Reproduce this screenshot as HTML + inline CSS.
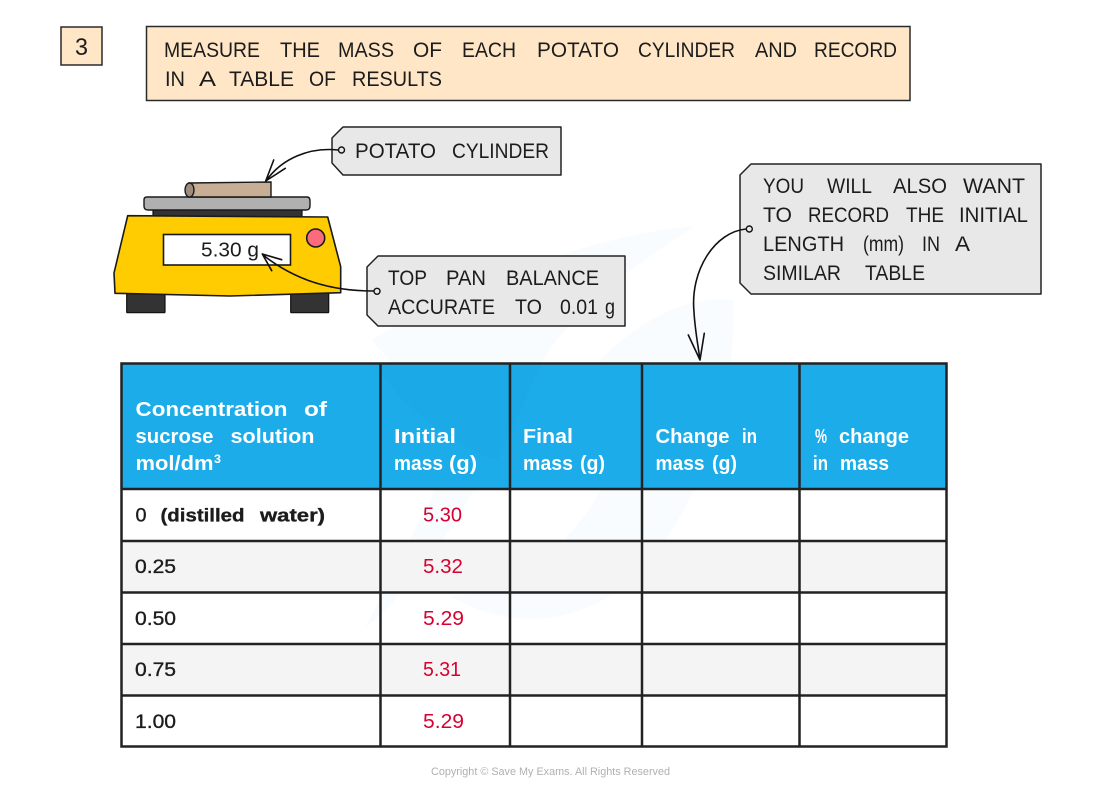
<!DOCTYPE html>
<html>
<head>
<meta charset="utf-8">
<style>
html,body{margin:0;padding:0;background:#fff}
svg{display:block}
text{font-family:"Liberation Sans",sans-serif}
.h{font-size:21px;fill:#1c1c1c}
.t{font-size:20px;font-weight:700;fill:#fff}
.b{font-size:19.5px;fill:#1c1c1c;stroke:#1c1c1c;stroke-width:.35}
.r{font-size:20px;fill:#d7002f}
.a{fill:none;stroke:#111;stroke-width:1.6;stroke-linecap:round;stroke-linejoin:round}
.l{stroke:#222;stroke-width:2.5;fill:none}
</style>
</head>
<body>
<svg xmlns="http://www.w3.org/2000/svg" width="1100" height="791" viewBox="0 0 1100 791">
<defs><clipPath id="hc"><rect x="121" y="363" width="826" height="126"/></clipPath></defs>
<rect width="1100" height="791" fill="#fff"/>
<!-- watermark -->
<path d="M372 340C450 290 590 235 695 226C640 262 585 300 548 352C510 420 450 560 365 628C400 560 440 480 470 420C430 400 395 370 372 340Z" fill="#f8fcfe"/>
<path d="M600 360C650 310 700 295 733 300C738 400 700 520 620 590C560 630 500 625 450 596C520 590 580 540 610 470C630 430 625 390 600 360Z" fill="#f9fcfe"/>

<!-- number box -->
<rect x="61" y="27" width="41" height="38" fill="#fee6c6" stroke="#2a2a2a" stroke-width="1.5"/>
<text x="75" y="55" class="h" style="font-size:24px" textLength="13" lengthAdjust="spacingAndGlyphs">3</text>
<!-- heading -->
<rect x="146.5" y="26.5" width="763.5" height="74" fill="#fee6c6" stroke="#2a2a2a" stroke-width="1.5"/>
<g class="h">
<text lengthAdjust="spacingAndGlyphs" x="164" y="57" textLength="96">MEASURE</text>
<text lengthAdjust="spacingAndGlyphs" x="280" y="57" textLength="40">THE</text>
<text lengthAdjust="spacingAndGlyphs" x="338" y="57" textLength="56">MASS</text>
<text lengthAdjust="spacingAndGlyphs" x="413" y="57" textLength="29">OF</text>
<text lengthAdjust="spacingAndGlyphs" x="462" y="57" textLength="54">EACH</text>
<text lengthAdjust="spacingAndGlyphs" x="537" y="57" textLength="82">POTATO</text>
<text lengthAdjust="spacingAndGlyphs" x="638" y="57" textLength="97">CYLINDER</text>
<text lengthAdjust="spacingAndGlyphs" x="755" y="57" textLength="42">AND</text>
<text lengthAdjust="spacingAndGlyphs" x="814" y="57" textLength="83">RECORD</text>
<text lengthAdjust="spacingAndGlyphs" x="165" y="86" textLength="20">IN</text>
<text lengthAdjust="spacingAndGlyphs" x="199" y="86" textLength="17">A</text>
<text lengthAdjust="spacingAndGlyphs" x="229" y="86" textLength="65">TABLE</text>
<text lengthAdjust="spacingAndGlyphs" x="309" y="86" textLength="27">OF</text>
<text lengthAdjust="spacingAndGlyphs" x="352" y="86" textLength="90">RESULTS</text>
</g>

<!-- balance -->
<rect x="126.7" y="290" width="38.3" height="22.7" rx="1" fill="#333" stroke="#111" stroke-width="1.2"/>
<rect x="290.7" y="290" width="38" height="22.7" rx="1" fill="#333" stroke="#111" stroke-width="1.2"/>
<rect x="153" y="207" width="149" height="11" fill="#333" stroke="#111" stroke-width="1.2"/>
<path d="M127.7 215.7L327.7 217L340.7 266.7L340.7 292.7L230 296L115 293.3L114 273Z" fill="#fecc00" stroke="#1a1a1a" stroke-width="1.6" stroke-linejoin="round"/>
<path d="M147 197H307Q310 197 310 201V206Q310 210 306 210H148Q144 210 144 206V200Q144 197 147 197Z" fill="#b0b0b0" stroke="#1a1a1a" stroke-width="1.4"/>
<path d="M189 183L271 182V197L189 197Z" fill="#c8ae94" stroke="#1a1a1a" stroke-width="1.4"/>
<ellipse cx="189.5" cy="190" rx="4.5" ry="7" fill="#a08c7c" stroke="#1a1a1a" stroke-width="1.4"/>
<rect x="163.5" y="234.5" width="127" height="30.5" fill="#fff" stroke="#1a1a1a" stroke-width="1.6"/>
<circle cx="315.7" cy="238" r="9" fill="#fb6b7b" stroke="#1a1a1a" stroke-width="1.6"/>
<text x="201" y="256.5" textLength="58" lengthAdjust="spacingAndGlyphs" style="font-size:20px" fill="#1c1c1c">5.30 g</text>

<!-- tags -->
<path d="M343 127H561V175H343L332 163V138Z" fill="#e8e8e8" stroke="#222" stroke-width="1.5" stroke-linejoin="round"/>
<path d="M378 256H625V326H378L367 315V267Z" fill="#e8e8e8" stroke="#222" stroke-width="1.5" stroke-linejoin="round"/>
<path d="M751 164H1041V294H751L740 283V175Z" fill="#e8e8e8" stroke="#222" stroke-width="1.5" stroke-linejoin="round"/>
<g class="h">
<text lengthAdjust="spacingAndGlyphs" x="355" y="158" textLength="81">POTATO</text>
<text lengthAdjust="spacingAndGlyphs" x="452" y="158" textLength="97">CYLINDER</text>
<text lengthAdjust="spacingAndGlyphs" x="388" y="285" textLength="39">TOP</text>
<text lengthAdjust="spacingAndGlyphs" x="446" y="285" textLength="40">PAN</text>
<text lengthAdjust="spacingAndGlyphs" x="506" y="285" textLength="93">BALANCE</text>
<text lengthAdjust="spacingAndGlyphs" x="388" y="314" textLength="107">ACCURATE</text>
<text lengthAdjust="spacingAndGlyphs" x="515" y="314" textLength="27">TO</text>
<text lengthAdjust="spacingAndGlyphs" x="560" y="314" textLength="38">0.01</text>
<text lengthAdjust="spacingAndGlyphs" x="605" y="314" textLength="10">g</text>
<text lengthAdjust="spacingAndGlyphs" x="763" y="193" textLength="41">YOU</text>
<text lengthAdjust="spacingAndGlyphs" x="827" y="193" textLength="45">WILL</text>
<text lengthAdjust="spacingAndGlyphs" x="893" y="193" textLength="54">ALSO</text>
<text lengthAdjust="spacingAndGlyphs" x="963" y="193" textLength="62">WANT</text>
<text lengthAdjust="spacingAndGlyphs" x="763" y="222" textLength="29">TO</text>
<text lengthAdjust="spacingAndGlyphs" x="808" y="222" textLength="81">RECORD</text>
<text lengthAdjust="spacingAndGlyphs" x="906" y="222" textLength="38">THE</text>
<text lengthAdjust="spacingAndGlyphs" x="959" y="222" textLength="69">INITIAL</text>
<text lengthAdjust="spacingAndGlyphs" x="763" y="251" textLength="81">LENGTH</text>
<text lengthAdjust="spacingAndGlyphs" x="863" y="251" textLength="41">(mm)</text>
<text lengthAdjust="spacingAndGlyphs" x="922" y="251" textLength="18">IN</text>
<text lengthAdjust="spacingAndGlyphs" x="955" y="251" textLength="15">A</text>
<text lengthAdjust="spacingAndGlyphs" x="763" y="280" textLength="78">SIMILAR</text>
<text lengthAdjust="spacingAndGlyphs" x="865" y="280" textLength="60">TABLE</text>
</g>

<!-- arrows -->
<path class="a" d="M338 150C310 147 282 158 266 181M273.7 160L265.7 181L285.3 168.3"/>
<circle cx="341.5" cy="150" r="3" fill="#e8e8e8" stroke="#111" stroke-width="1.4"/>
<path class="a" d="M373.5 291C330 291 295 280 263 255M281.7 259.7L262.3 254L271.7 270.7"/>
<circle cx="377" cy="291.3" r="3" fill="#e8e8e8" stroke="#111" stroke-width="1.4"/>
<path class="a" d="M746 229C715 232 690 270 694 312C695 330 698 345 700 360M688.3 335L700 360L704.3 333.3"/>
<circle cx="749.3" cy="229" r="3" fill="#e8e8e8" stroke="#111" stroke-width="1.4"/>

<!-- table -->
<rect x="121" y="363" width="826" height="126" fill="#1cace9"/>
<rect x="121" y="541" width="826" height="51.5" fill="#f4f4f4"/>
<rect x="121" y="644" width="826" height="51.5" fill="#f4f4f4"/>
<path d="M372 340C450 290 590 235 695 226C640 262 585 300 548 352C530 385 515 425 497 460C440 440 400 400 372 363Z" fill="#0a8ac8" opacity=".06" clip-path="url(#hc)"/>
<rect class="l" x="121.5" y="363.5" width="825" height="383"/>
<path class="l" d="M380.5 363V747M510 363V747M642 363V747M799.5 363V747M121 489H947M121 541H947M121 592.5H947M121 644H947M121 695.5H947"/>

<g class="t">
<text lengthAdjust="spacingAndGlyphs" x="135.5" y="416" textLength="152">Concentration</text>
<text lengthAdjust="spacingAndGlyphs" x="304" y="416" textLength="23">of</text>
<text lengthAdjust="spacingAndGlyphs" x="135.5" y="443" textLength="78">sucrose</text>
<text lengthAdjust="spacingAndGlyphs" x="230.5" y="443" textLength="84">solution</text>
<text lengthAdjust="spacingAndGlyphs" x="135.5" y="470" textLength="78">mol/dm</text>
<text lengthAdjust="spacingAndGlyphs" x="214" y="463" textLength="7" style="font-size:12px">3</text>
<text lengthAdjust="spacingAndGlyphs" x="394" y="443" textLength="62">Initial</text>
<text lengthAdjust="spacingAndGlyphs" x="394" y="470" textLength="49">mass</text>
<text lengthAdjust="spacingAndGlyphs" x="449" y="470" textLength="28">(g)</text>
<text lengthAdjust="spacingAndGlyphs" x="523" y="443" textLength="50">Final</text>
<text lengthAdjust="spacingAndGlyphs" x="523" y="470" textLength="50">mass</text>
<text lengthAdjust="spacingAndGlyphs" x="580" y="470" textLength="25">(g)</text>
<text lengthAdjust="spacingAndGlyphs" x="655.5" y="443" textLength="74">Change</text>
<text lengthAdjust="spacingAndGlyphs" x="742" y="443" textLength="15">in</text>
<text lengthAdjust="spacingAndGlyphs" x="655.5" y="470" textLength="49">mass</text>
<text lengthAdjust="spacingAndGlyphs" x="712" y="470" textLength="25">(g)</text>
<text lengthAdjust="spacingAndGlyphs" x="815" y="443" textLength="12">%</text>
<text lengthAdjust="spacingAndGlyphs" x="839" y="443" textLength="70">change</text>
<text lengthAdjust="spacingAndGlyphs" x="813" y="470" textLength="15">in</text>
<text lengthAdjust="spacingAndGlyphs" x="840" y="470" textLength="49">mass</text>
</g>

<g class="b">
<text lengthAdjust="spacingAndGlyphs" x="135.5" y="521.5" textLength="11">0</text>
<text lengthAdjust="spacingAndGlyphs" x="160.5" y="521.5" textLength="84" style="font-size:18px;font-weight:700">(distilled</text>
<text lengthAdjust="spacingAndGlyphs" x="260" y="521.5" textLength="65" style="font-size:18px;font-weight:700">water)</text>
<text lengthAdjust="spacingAndGlyphs" x="135" y="573" textLength="41">0.25</text>
<text lengthAdjust="spacingAndGlyphs" x="135" y="625" textLength="41">0.50</text>
<text lengthAdjust="spacingAndGlyphs" x="135" y="676" textLength="41">0.75</text>
<text lengthAdjust="spacingAndGlyphs" x="135" y="728" textLength="41">1.00</text>
</g>
<g class="r">
<text lengthAdjust="spacingAndGlyphs" x="423" y="521.5" textLength="39">5.30</text>
<text lengthAdjust="spacingAndGlyphs" x="423" y="573" textLength="40">5.32</text>
<text lengthAdjust="spacingAndGlyphs" x="423" y="625" textLength="41">5.29</text>
<text lengthAdjust="spacingAndGlyphs" x="423" y="676" textLength="38">5.31</text>
<text lengthAdjust="spacingAndGlyphs" x="423" y="728" textLength="41">5.29</text>
</g>

<text x="431" y="775" textLength="239" lengthAdjust="spacingAndGlyphs" style="font-size:11px" fill="#b0b0b0">Copyright © Save My Exams. All Rights Reserved</text>
</svg>
</body>
</html>
